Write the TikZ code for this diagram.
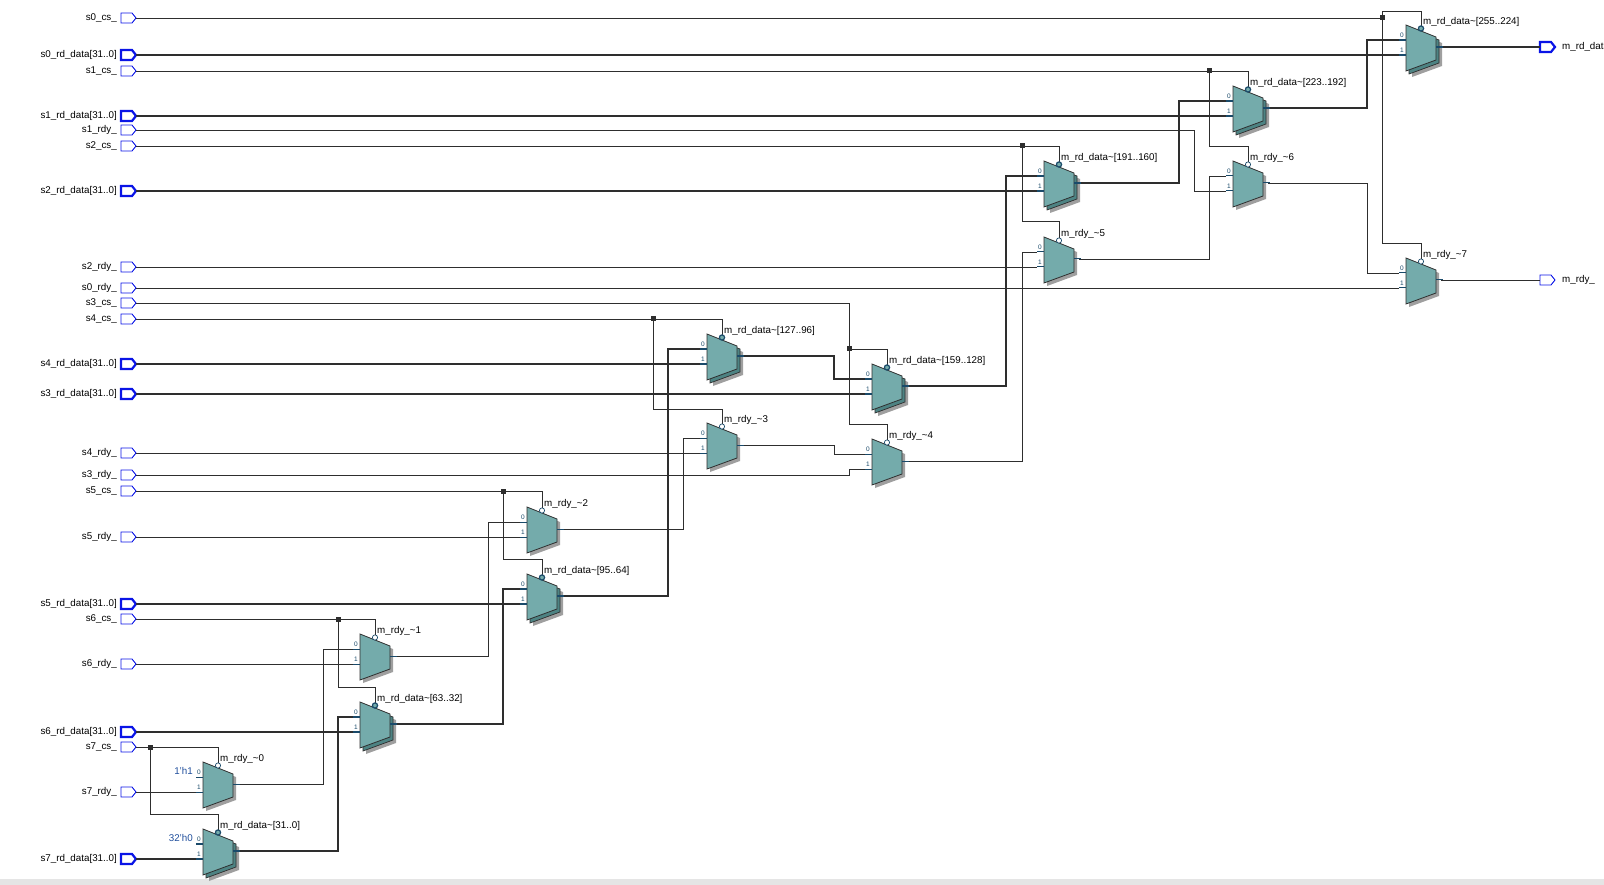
\documentclass[tikz,border=0pt]{standalone}
\usepackage{fontspec}
\setmainfont{Liberation Sans}
\definecolor{muxfill}{HTML}{74ABAB}
\definecolor{muxdark}{HTML}{4D8383}
\definecolor{stubc}{HTML}{1A4A6A}
\definecolor{portc}{HTML}{0A14E6}
\definecolor{constc}{HTML}{1F4E9C}
\definecolor{wirec}{HTML}{2E2E2E}
\newcommand{\mymux}[5]{%
 \ifnum#5=1 \def\mylw{2}\else\def\mylw{1}\fi
 \begin{scope}[shift={(#2,#3)}]
  \ifnum#5=1
   \fill[gray!75] (6,6)--(36,18)--(36,41)--(6,52)--cycle;
   \filldraw[fill=muxdark,draw=wirec,line width=0.7] (3,3)--(33,15)--(33,38)--(3,49)--cycle;
  \else
   \fill[gray!75] (3,3)--(33,15)--(33,38)--(3,49)--cycle;
  \fi
  \filldraw[fill=muxfill,draw=wirec,line width=0.8] (0,0)--(30,12)--(30,35)--(0,46)--cycle;
  \draw[stubc,line width=\mylw] (-7,15)--(0,15) (-7,30)--(0,30) (30,22)--(37,22);
  \node[lbl0] at (-4,10) {0};
  \node[lbl0] at (-4,25) {1};
  \ifnum#5=1
   \draw[stubc,fill=muxfill,line width=1.2] (15,3.5) circle (2.6);
  \else
   \draw[stubc,fill=white,line width=0.7] (15,3.5) circle (2.6);
  \fi
  \node[mlbl] at (17,-3) {#4};
  \coordinate (#1-in0) at (-7,15);
  \coordinate (#1-in1) at (-7,30);
  \coordinate (#1-out) at (37,22);
  \coordinate (#1-sel) at (15,1);
 \end{scope}}
\newcommand{\inport}[4]{%
 \ifnum#4=1 \def\mylw{2.2}\else\def\mylw{0.9}\fi
 \draw[portc,line width=\mylw] (121,#2-5)--(132,#2-5)--(136,#2)--(132,#2+5)--(121,#2+5)--cycle;
 \node[plbl,anchor=east] at (117,#2) {#3};
 \coordinate (#1) at (136,#2);}
\newcommand{\outport}[4]{%
 \ifnum#4=1 \def\mylw{2.2}\else\def\mylw{0.9}\fi
 \draw[portc,line width=\mylw] (1540,#2-5)--(1551,#2-5)--(1555,#2)--(1551,#2+5)--(1540,#2+5)--cycle;
 \node[plbl,anchor=west] at (1562,#2) {#3};
 \coordinate (#1) at (1540,#2);}
\newcommand{\junc}[2]{\fill[wirec] (#1-2.5,#2-2.5) rectangle (#1+2.5,#2+2.5);}
\begin{document}
\begin{tikzpicture}[x=1pt,y=-1pt,
 lbl0/.style={font=\fontsize{6.5}{7}\selectfont,text=stubc,inner sep=0},
 mlbl/.style={font=\fontsize{9.8}{11}\selectfont,anchor=west,inner sep=0},
 plbl/.style={font=\fontsize{9.8}{11}\selectfont,inner sep=0},
 w/.style={wirec,line width=0.9},
 bus/.style={wirec,line width=2.2}]
\useasboundingbox (0,0) rectangle (1604,885);
\fill[gray!20] (0,879) rectangle (1604,885);
% ports
\inport{s0cs}{18}{s0\_cs\_}{0}
\inport{s0d}{55}{s0\_rd\_data[31..0]}{1}
\inport{s1cs}{71}{s1\_cs\_}{0}
\inport{s1d}{116}{s1\_rd\_data[31..0]}{1}
\inport{s1r}{130}{s1\_rdy\_}{0}
\inport{s2cs}{146}{s2\_cs\_}{0}
\inport{s2d}{191}{s2\_rd\_data[31..0]}{1}
\inport{s2r}{267}{s2\_rdy\_}{0}
\inport{s0r}{288}{s0\_rdy\_}{0}
\inport{s3cs}{303}{s3\_cs\_}{0}
\inport{s4cs}{319}{s4\_cs\_}{0}
\inport{s4d}{364}{s4\_rd\_data[31..0]}{1}
\inport{s3d}{394}{s3\_rd\_data[31..0]}{1}
\inport{s4r}{453}{s4\_rdy\_}{0}
\inport{s3r}{475}{s3\_rdy\_}{0}
\inport{s5cs}{491}{s5\_cs\_}{0}
\inport{s5r}{537}{s5\_rdy\_}{0}
\inport{s5d}{604}{s5\_rd\_data[31..0]}{1}
\inport{s6cs}{619}{s6\_cs\_}{0}
\inport{s6r}{664}{s6\_rdy\_}{0}
\inport{s6d}{732}{s6\_rd\_data[31..0]}{1}
\inport{s7cs}{747}{s7\_cs\_}{0}
\inport{s7r}{792}{s7\_rdy\_}{0}
\inport{s7d}{859}{s7\_rd\_data[31..0]}{1}
\outport{mrd}{47}{m\_rd\_data}{1}
\outport{mrdy}{280}{m\_rdy\_}{0}
% data chain
\draw[bus] (s0d)--(1399,55); \draw[bus] (s1d)--(1226,116); \draw[bus] (s2d)--(1037,191);
\draw[bus] (s4d)--(700,364); \draw[bus] (s3d)--(865,394); \draw[bus] (s5d)--(520,604);
\draw[bus] (s6d)--(353,732); \draw[bus] (s7d)--(196,859);
\draw[bus] (238,851)--(338,851)|-(353,717);
\draw[bus] (395,724)--(503,724)|-(520,589);
\draw[bus] (562,596)--(668,596)|-(700,349);
\draw[bus] (742,356)--(834,356)|-(865,379);
\draw[bus] (907,386)--(1006,386)|-(1037,176);
\draw[bus] (1079,183)--(1179,183)|-(1226,101);
\draw[bus] (1268,108)--(1367,108)|-(1399,40);
\draw[bus] (1441,47)--(mrd);
% rdy chain
\draw[w] (s7r)--(196,792); \draw[w] (s6r)--(353,664); \draw[w] (s5r)--(520,537);
\draw[w] (s4r)--(700,453); \draw[w] (s2r)--(1037,267); \draw[w] (s0r)--(1399,288);
\draw[w] (238,784)--(323,784)|-(353,649);
\draw[w] (395,656)--(488,656)|-(520,522);
\draw[w] (562,529)--(683,529)|-(700,438);
\draw[w] (742,445)--(834,445)|-(865,454);
\draw[w] (s3r)--(849,475)|-(865,469);
\draw[w] (907,461)--(1022,461)|-(1037,252);
\draw[w] (1079,259)--(1209,259)|-(1226,176);
\draw[w] (s1r)--(1194,130)|-(1226,191);
\draw[w] (1268,183)--(1367,183)|-(1399,273);
\draw[w] (1441,280)--(mrdy);
% selects
\draw[w] (s0cs)--(1382,18)|-(1421,11)--(1421,26);
\draw[w] (1382,18)|-(1421,243)--(1421,259);
\draw[w] (s1cs)--(1248,71)--(1248,87);
\draw[w] (1209,71)|-(1248,146)--(1248,162);
\draw[w] (s2cs)--(1059,146)--(1059,162);
\draw[w] (1022,146)|-(1059,221)--(1059,238);
\draw[w] (s3cs)--(849,303)--(849,424)-|(887,440);
\draw[w] (849,349)-|(887,365);
\draw[w] (s4cs)--(722,319)--(722,335);
\draw[w] (653,319)|-(722,409)--(722,424);
\draw[w] (s5cs)--(542,491)--(542,508);
\draw[w] (503,491)|-(542,559)--(542,575);
\draw[w] (s6cs)--(375,619)--(375,635);
\draw[w] (338,619)|-(375,687)--(375,703);
\draw[w] (s7cs)--(218,747)--(218,763);
\draw[w] (150,747)|-(218,814)--(218,830);
\junc{1382}{18}\junc{1209}{71}\junc{1022}{146}\junc{849}{349}
\junc{653}{319}\junc{503}{491}\junc{338}{619}\junc{150}{747}
% muxes
\mymux{D7}{1406}{25}{m\_rd\_data\textasciitilde[255..224]}{1}
\mymux{D6}{1233}{86}{m\_rd\_data\textasciitilde[223..192]}{1}
\mymux{D5}{1044}{161}{m\_rd\_data\textasciitilde[191..160]}{1}
\mymux{R6}{1233}{161}{m\_rdy\_\textasciitilde6}{0}
\mymux{R5}{1044}{237}{m\_rdy\_\textasciitilde5}{0}
\mymux{R7}{1406}{258}{m\_rdy\_\textasciitilde7}{0}
\mymux{D4}{707}{334}{m\_rd\_data\textasciitilde[127..96]}{1}
\mymux{D3}{872}{364}{m\_rd\_data\textasciitilde[159..128]}{1}
\mymux{R3}{707}{423}{m\_rdy\_\textasciitilde3}{0}
\mymux{R4}{872}{439}{m\_rdy\_\textasciitilde4}{0}
\mymux{R2}{527}{507}{m\_rdy\_\textasciitilde2}{0}
\mymux{D2}{527}{574}{m\_rd\_data\textasciitilde[95..64]}{1}
\mymux{R1}{360}{634}{m\_rdy\_\textasciitilde1}{0}
\mymux{D1}{360}{702}{m\_rd\_data\textasciitilde[63..32]}{1}
\mymux{R0}{203}{762}{m\_rdy\_\textasciitilde0}{0}
\mymux{D0}{203}{829}{m\_rd\_data\textasciitilde[31..0]}{1}
\node[plbl,anchor=east,text=constc] (c1) at (193,771) {1'h1};
\node[plbl,anchor=east,text=constc] (c0) at (193,838) {32'h0};
\end{tikzpicture}
\end{document}
